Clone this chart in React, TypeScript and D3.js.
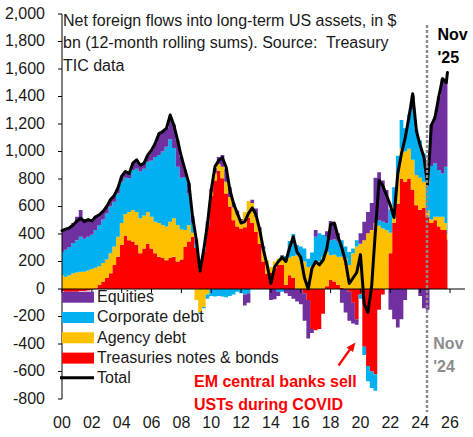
import React from 'react';
import * as d3 from 'd3';

// Quarterly readings 2000Q1..2025Q4, last value = Nov 2025 (12-month rolling sums, $bn)
const startYear = 2000;
const treasuries = [
  -15, -20, -20, -20, -20, -15, -15, -10, -5, 5, 30, 55, 80, 115, 175, 235,
  320, 385, 355, 345, 320, 260, 295, 330, 295, 260, 235, 225, 210, 225, 235, 200,
  215, 305, 345, 380, 300, 140, 270, 460, 680, 790, 860, 805, 695, 600, 500, 455,
  440, 450, 520, 480, 415, 330, 200, 110, 120, 150, 175, 175, 30, 100, 80, 0,
  0, -30, -80, -290, -300, -290, -180, 20, 65, 55, 30, 10, 0, -20, -100, -220,
  -40, -420, -560, -600, -620, -150, -40, 0, 260, 480, 620, 800, 780, 800, 720, 610,
  575, 590, 525, 480, 500, 455, 430, 430, 360,
];
const agency = [
  100, 90, 100, 115, 120, 125, 125, 135, 145, 150, 135, 135, 135, 145, 135, 145,
  160, 160, 205, 230, 240, 255, 240, 230, 230, 230, 245, 240, 245, 265, 280, 265,
  220, 125, 120, 30, -80, -170, -130, -40, 30, 50, 50, 85, 85, 70, 95, 85,
  60, 110, 120, 145, 110, 100, 90, 100, 40, 50, 45, 60, 170, 130, 160, 245,
  210, 200, 160, 165, 185, 200, 235, 250, 180, 195, 205, 225, 225, 175, 260, 310,
  330, 355, 405, 430, 480, 460, 440, 430, 150, 120, 220, 220, 220, 220, 220, 220,
  235, 190, 50, 25, 25, 70, 95, 50, 40,
];
const corporate = [
  170, 195, 205, 220, 235, 255, 240, 245, 250, 275, 300, 315, 335, 340, 325, 315,
  300, 265, 245, 290, 315, 340, 340, 365, 410, 470, 495, 535, 580, 600, 510, 425,
  375, 385, 230, 70, 30, -10, -10, -30, -50, -55, -50, -55, -60, -50, -40, -20,
  -30, -40, -30, 0, 0, 0, 10, 0, 0, 0, -20, -20, 40, 120, 160, 75,
  100, 95, 60, 100, 195, 205, 160, 110, 110, 110, 110, 120, 85, 95, 35, 45,
  -30, -60, -110, -120, -120, 40, 50, 50, 170, 140, 130, 210, 170, 250, 370, 330,
  270, 205, 190, 390, 390, 340, 315, 410, 490,
];
const equities = [
  160, 155, 140, 145, 170, 195, 145, 125, 105, 100, 80, 65, 55, 50, 45, 40,
  40, 45, 40, 50, 60, 50, 40, 50, 75, 100, 155, 145, 135, 170, 170, 190,
  150, 50, 75, 50, 30, 0, 20, 30, 20, 40, 50, 85, 95, 70, 30, 30,
  10, -80, -70, 25, 60, 20, 10, 0, -80, -75, -30, 10, -30, -50, -70, -90,
  -110, -200, -280, -30, 50, 0, 0, 40, 140, 115, 60, -100, -170, -210, -150, -40,
  75, 135, 155, 195, 330, 350, 300, 240, -150, -220, -280, -220, -80, 0, 100, 0,
  -50, -140, -150, 300, 340, 535, 690, 610, 690,
];
const total = [
  425, 435, 445, 465, 495, 515, 490, 505, 495, 525, 540, 565, 600, 650, 680, 735,
  820, 855, 840, 915, 940, 900, 915, 975, 1010, 1060, 1130, 1145, 1170, 1265, 1190, 1080,
  960, 865, 770, 525, 360, 130, 285, 475, 720, 890, 935, 955, 885, 720, 620, 550,
  480, 490, 550, 590, 540, 430, 285, 170, 40, 160, 200, 230, 200, 300, 380, 270,
  230, 80, 0, 150, 200, 175, 211, 296, 470, 480, 380, 300, 200, 40, 80, 120,
  250, -110, -170, 20, 420, 790, 750, 680, 610, 520, 840, 985, 1100, 1250, 1420, 1150,
  1045, 960, 760, 1190, 1250, 1400, 1530, 1500, 1575,
];
const lastDate = 2025.83; // Nov 2025
const dates = treasuries.map((_, i) => (i < treasuries.length - 1 ? startYear + i / 4 : lastDate));

const yTicks = [-800, -600, -400, -200, 0, 200, 400, 600, 800, 1000, 1200, 1400, 1600, 1800, 2000];
const xTickYears = [2000, 2002, 2004, 2006, 2008, 2010, 2012, 2014, 2016, 2018, 2020, 2022, 2024, 2026];

const keys = ['Treasuries', 'Agency', 'Corporate', 'Equities'];
const colors: Record<string, string> = {
  Treasuries: '#FF0000',
  Agency: '#FFC000',
  Corporate: '#00B0F0',
  Equities: '#7030A0',
};
const legendItems = [
  { key: 'Equities', label: 'Equities' },
  { key: 'Corporate', label: 'Corporate debt' },
  { key: 'Agency', label: 'Agency debt' },
  { key: 'Treasuries', label: 'Treasuries notes & bonds' },
];
const titleLines = [
  'Net foreign flows into long-term US assets, in $',
  'bn (12-month rolling sums). Source:  Treasury',
  'TIC data',
];
const markerYear = 2024.46;

const FONT = '"Liberation Sans", Arial, sans-serif';

export default function App() {
  const W = 473;
  const H = 437;
  const x = d3.scaleLinear().domain([2000, 2026]).range([62, 450]);
  const y = d3.scaleLinear().domain([-800, 2000]).range([399, 14]);

  const rows = dates.map((d, i) => ({
    date: d,
    Treasuries: treasuries[i],
    Agency: agency[i],
    Corporate: corporate[i],
    Equities: equities[i],
  }));
  const stacked = d3
    .stack<any>()
    .keys(keys)
    .offset(d3.stackOffsetDiverging)(rows);

  const area = d3
    .area<any>()
    .x((d: any) => x(d.data.date))
    .y0((d: any) => y(d[0]))
    .y1((d: any) => y(d[1]))
    .curve(d3.curveStep);

  const line = d3
    .line<number>()
    .x((_, i) => x(dates[i]))
    .y((d) => y(d))
    .curve(d3.curveLinear);

  const y0 = y(0);
  const mx = x(markerYear);

  return (
    <svg
      width={W}
      height={H}
      style={{ position: 'absolute', left: 0, top: 0, background: '#fff' }}
      fontFamily={FONT}
    >
      {/* stacked areas */}
      {stacked.map((s) => (
        <path key={s.key} d={area(s as any) || ''} fill={colors[s.key]} stroke="none" />
      ))}

      {/* total line */}
      <path
        d={line(total) || ''}
        fill="none"
        stroke="#000"
        strokeWidth={3}
        strokeLinejoin="round"
        strokeLinecap="round"
      />

      {/* y axis */}
      <line x1={62} x2={62} y1={y(2000)} y2={y(-800)} stroke="#000" strokeWidth={1} />
      {yTicks.map((t) => (
        <g key={t}>
          <line x1={58} x2={62} y1={y(t)} y2={y(t)} stroke="#000" strokeWidth={1} />
          <text x={45} y={y(t) + 4.5} textAnchor="end" fontSize={16} fill="#1a1a1a">
            {d3.format(',')(t).replace('−', '-')}
          </text>
        </g>
      ))}

      {/* zero line and x ticks */}
      <line x1={62} x2={465} y1={y0} y2={y0} stroke="#000" strokeWidth={1} />
      {xTickYears.map((t) => (
        <g key={t}>
          <line x1={x(t)} x2={x(t)} y1={y0} y2={y0 + 4} stroke="#000" strokeWidth={1} />
          <text x={x(t)} y={428} textAnchor="middle" fontSize={16} fill="#1a1a1a">
            {String(t % 100).padStart(2, '0')}
          </text>
        </g>
      ))}

      {/* marker dotted line */}
      <line
        x1={mx}
        x2={mx}
        y1={25}
        y2={412}
        stroke="#8c8c8c"
        strokeWidth={2.5}
        strokeDasharray="3 2"
      />

      {/* title */}
      {titleLines.map((t, i) => (
        <text
          key={i}
          x={63}
          y={26 + i * 22.3}
          fontSize={16}
          fill="#1a1a1a"
          style={{ whiteSpace: 'pre' }}
        >
          {t}
        </text>
      ))}

      {/* legend */}
      {legendItems.map((it, i) => (
        <g key={it.key}>
          <rect x={62} y={291.7 + i * 20.3} width={32} height={11} fill={colors[it.key]} />
          <text x={97} y={302 + i * 20.3} fontSize={16} fill="#1a1a1a">
            {it.label}
          </text>
        </g>
      ))}
      <line x1={60} x2={94} y1={377.7} y2={377.7} stroke="#000" strokeWidth={3} />
      <text x={97} y={383} fontSize={16} fill="#1a1a1a">
        Total
      </text>

      {/* annotation */}
      <text x={194} y={386.7} fontSize={16} fontWeight="bold" fill="#FF0000">
        EM central banks sell
      </text>
      <text x={194} y={410} fontSize={16} fontWeight="bold" fill="#FF0000">
        USTs during COVID
      </text>
      <line x1={338.5} y1={365.5} x2={351} y2={348} stroke="#FF0000" strokeWidth={2.2} />
      <polygon points="355.5,342.5 346.5,347.5 353,352" fill="#FF0000" />

      {/* Nov '25 / Nov '24 */}
      <text x={437.5} y={40} fontSize={16} fontWeight="bold" fill="#000">
        Nov
      </text>
      <text x={437.5} y={62.7} fontSize={16} fontWeight="bold" fill="#000">
        '25
      </text>
      <text x={433.3} y={349.3} fontSize={16} fontWeight="bold" fill="#8c8c8c">
        Nov
      </text>
      <text x={433.3} y={371.7} fontSize={16} fontWeight="bold" fill="#8c8c8c">
        '24
      </text>
    </svg>
  );
}
